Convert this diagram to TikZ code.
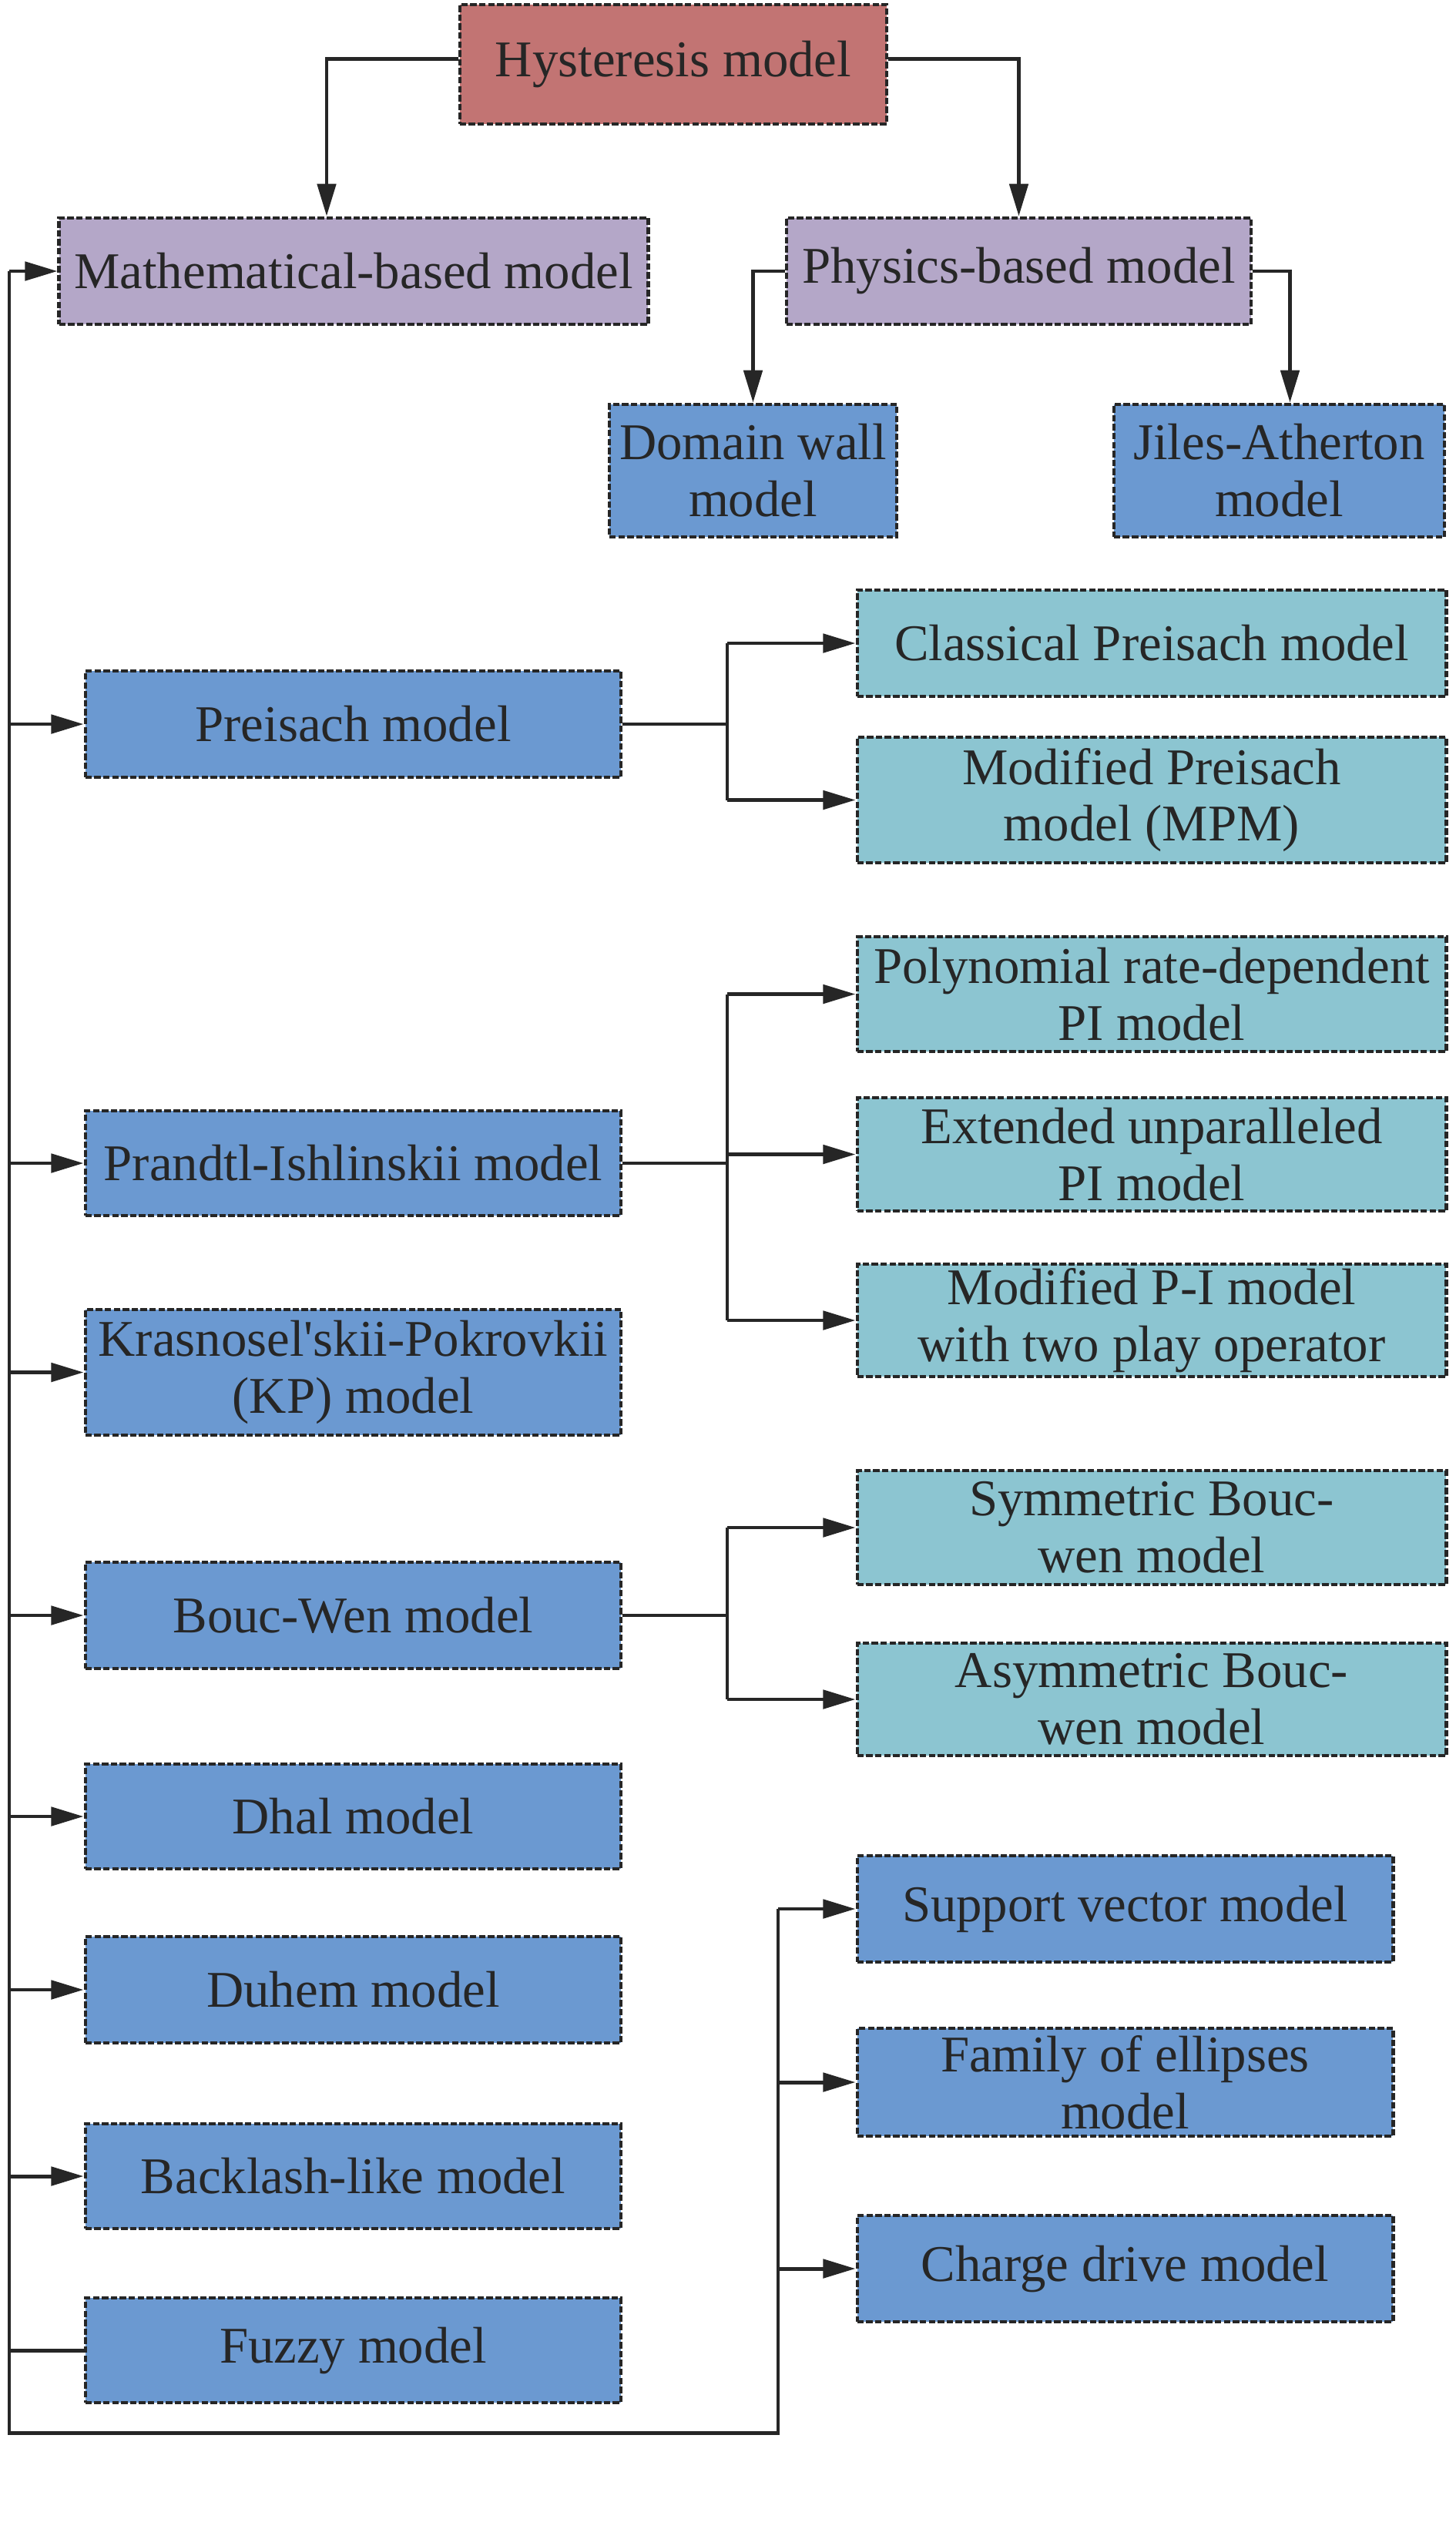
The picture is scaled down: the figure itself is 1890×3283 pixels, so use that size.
\documentclass[tikz,border=0pt]{standalone}
\usepackage{fontspec}
\setmainfont{Liberation Serif}
\usetikzlibrary{arrows.meta,calc}
\definecolor{cred}{HTML}{C27473}
\definecolor{clav}{HTML}{B4A7C8}
\definecolor{cblue}{HTML}{6B99D1}
\definecolor{cteal}{HTML}{8CC5D1}
\definecolor{cline}{HTML}{262626}
\tikzset{
  box/.style={draw=cline, line width=1.3pt, dash pattern=on 2.4pt off 0.9pt,
    rectangle, align=center, inner sep=0pt, text=cline,
    font=\fontsize{19}{21}\selectfont},
  redbox/.style={box, fill=cred},
  lavbox/.style={box, fill=clav},
  bluebox/.style={box, fill=cblue},
  tealbox/.style={box, fill=cteal},
  conn/.style={draw=cline, line width=1.4pt},
  arr/.style={conn, -{Triangle[length=0.42cm,width=0.24cm]}},
}
\begin{document}
\begin{tikzpicture}[x=0.01cm,y=-0.01cm]
\useasboundingbox (0,0) rectangle (1890,3283);
% top
\node[redbox, minimum width=5.54cm, minimum height=1.55cm] (hyst) at (874,83.5) {Hysteresis model};
\node[lavbox, minimum width=7.64cm, minimum height=1.38cm] (math) at (459,352) {Mathematical-based model};
\node[lavbox, minimum width=6.03cm, minimum height=1.38cm] (phys) at (1322.5,352) {Physics-based model};
\node[bluebox, minimum width=3.73cm, minimum height=1.72cm] (domain) at (977.5,611) {Domain wall\\model};
\node[bluebox, minimum width=4.29cm, minimum height=1.72cm] (jiles) at (1660.5,611) {Jiles-Atherton\\model};
% left column
\node[bluebox, minimum width=6.95cm, minimum height=1.38cm] (preisach) at (458.5,940) {Preisach model};
\node[bluebox, minimum width=6.95cm, minimum height=1.36cm] (pim) at (458.5,1510) {Prandtl-Ishlinskii model};
\node[bluebox, minimum width=6.95cm, minimum height=1.63cm] (kp) at (458.5,1781.5) {Krasnosel\textquotesingle skii-Pokrovkii\\(KP) model};
\node[bluebox, minimum width=6.95cm, minimum height=1.38cm] (bw) at (458.5,2097) {Bouc-Wen model};
\node[bluebox, minimum width=6.95cm, minimum height=1.36cm] (dhal) at (458.5,2358) {Dhal model};
\node[bluebox, minimum width=6.95cm, minimum height=1.38cm] (duhem) at (458.5,2583) {Duhem model};
\node[bluebox, minimum width=6.95cm, minimum height=1.36cm] (backlash) at (458.5,2825) {Backlash-like model};
\node[bluebox, minimum width=6.95cm, minimum height=1.36cm] (fuzzy) at (458.5,3051) {Fuzzy model};
% right teal column
\node[tealbox, minimum width=7.64cm, minimum height=1.38cm] (classical) at (1495,835) {Classical Preisach model};
\node[tealbox, minimum width=7.64cm, minimum height=1.63cm] (mpm) at (1495,1038.5) {Modified Preisach\\model (MPM)};
\node[tealbox, minimum width=7.64cm, minimum height=1.49cm] (poly) at (1495,1290.5) {Polynomial rate-dependent\\PI model};
\node[tealbox, minimum width=7.64cm, minimum height=1.47cm] (ext) at (1495,1498.5) {Extended unparalleled\\PI model};
\node[tealbox, minimum width=7.64cm, minimum height=1.46cm] (mpi) at (1495,1714) {Modified P-I model\\with two play operator};
\node[tealbox, minimum width=7.64cm, minimum height=1.48cm] (sym) at (1495,1983) {Symmetric Bouc-\\wen model};
\node[tealbox, minimum width=7.64cm, minimum height=1.46cm] (asym) at (1495,2206) {Asymmetric Bouc-\\wen model};
% right blue column
\node[bluebox, minimum width=6.95cm, minimum height=1.38cm] (sv) at (1460.5,2478) {Support vector model};
\node[bluebox, minimum width=6.95cm, minimum height=1.40cm] (family) at (1460.5,2703) {Family of ellipses\\model};
\node[bluebox, minimum width=6.95cm, minimum height=1.38cm] (charge) at (1460.5,2945) {Charge drive model};
% coordinates
\coordinate (busT) at (12,352);
\coordinate (busB) at (12,3158);
\coordinate (busR) at (1010,3158);
\coordinate (pj) at (944,940);
\coordinate (ij) at (944,1510);
\coordinate (bj) at (944,2097);
% top connectors
\draw[arr] ($(hyst.west)+(0,-7)$) -| ($(math.north)+(-35,0)$);
\draw[arr] ($(hyst.east)+(0,-7)$) -| (phys.north);
\draw[arr] (phys.west) -| (domain.north);
\draw[arr] (phys.east) -| ($(jiles.north)+(14,0)$);
% left bus
\draw[conn] (busT) -- (busB) -- (busR) -- (busR |- sv.west);
\draw[arr] (busT) -- (math.west);
\foreach \n in {preisach,pim,kp,bw,dhal,duhem,backlash}
  \draw[arr] (busT |- \n.west) -- (\n.west);
\draw[conn] (busT |- fuzzy.west) -- (fuzzy.west);
\foreach \n in {sv,family,charge}
  \draw[arr] (busR |- \n.west) -- (\n.west);
% Preisach branch
\draw[conn] (preisach.east) -- (pj);
\draw[conn] (pj |- classical.west) -- (pj |- mpm.west);
\draw[arr] (pj |- classical.west) -- (classical.west);
\draw[arr] (pj |- mpm.west) -- (mpm.west);
% PI branch
\draw[conn] (pim.east) -- (ij);
\draw[conn] (ij |- poly.west) -- (ij |- mpi.west);
\draw[arr] (ij |- poly.west) -- (poly.west);
\draw[arr] (ij |- ext.west) -- (ext.west);
\draw[arr] (ij |- mpi.west) -- (mpi.west);
% Bouc-Wen branch
\draw[conn] (bw.east) -- (bj);
\draw[conn] (bj |- sym.west) -- (bj |- asym.west);
\draw[arr] (bj |- sym.west) -- (sym.west);
\draw[arr] (bj |- asym.west) -- (asym.west);
\end{tikzpicture}
\end{document}
